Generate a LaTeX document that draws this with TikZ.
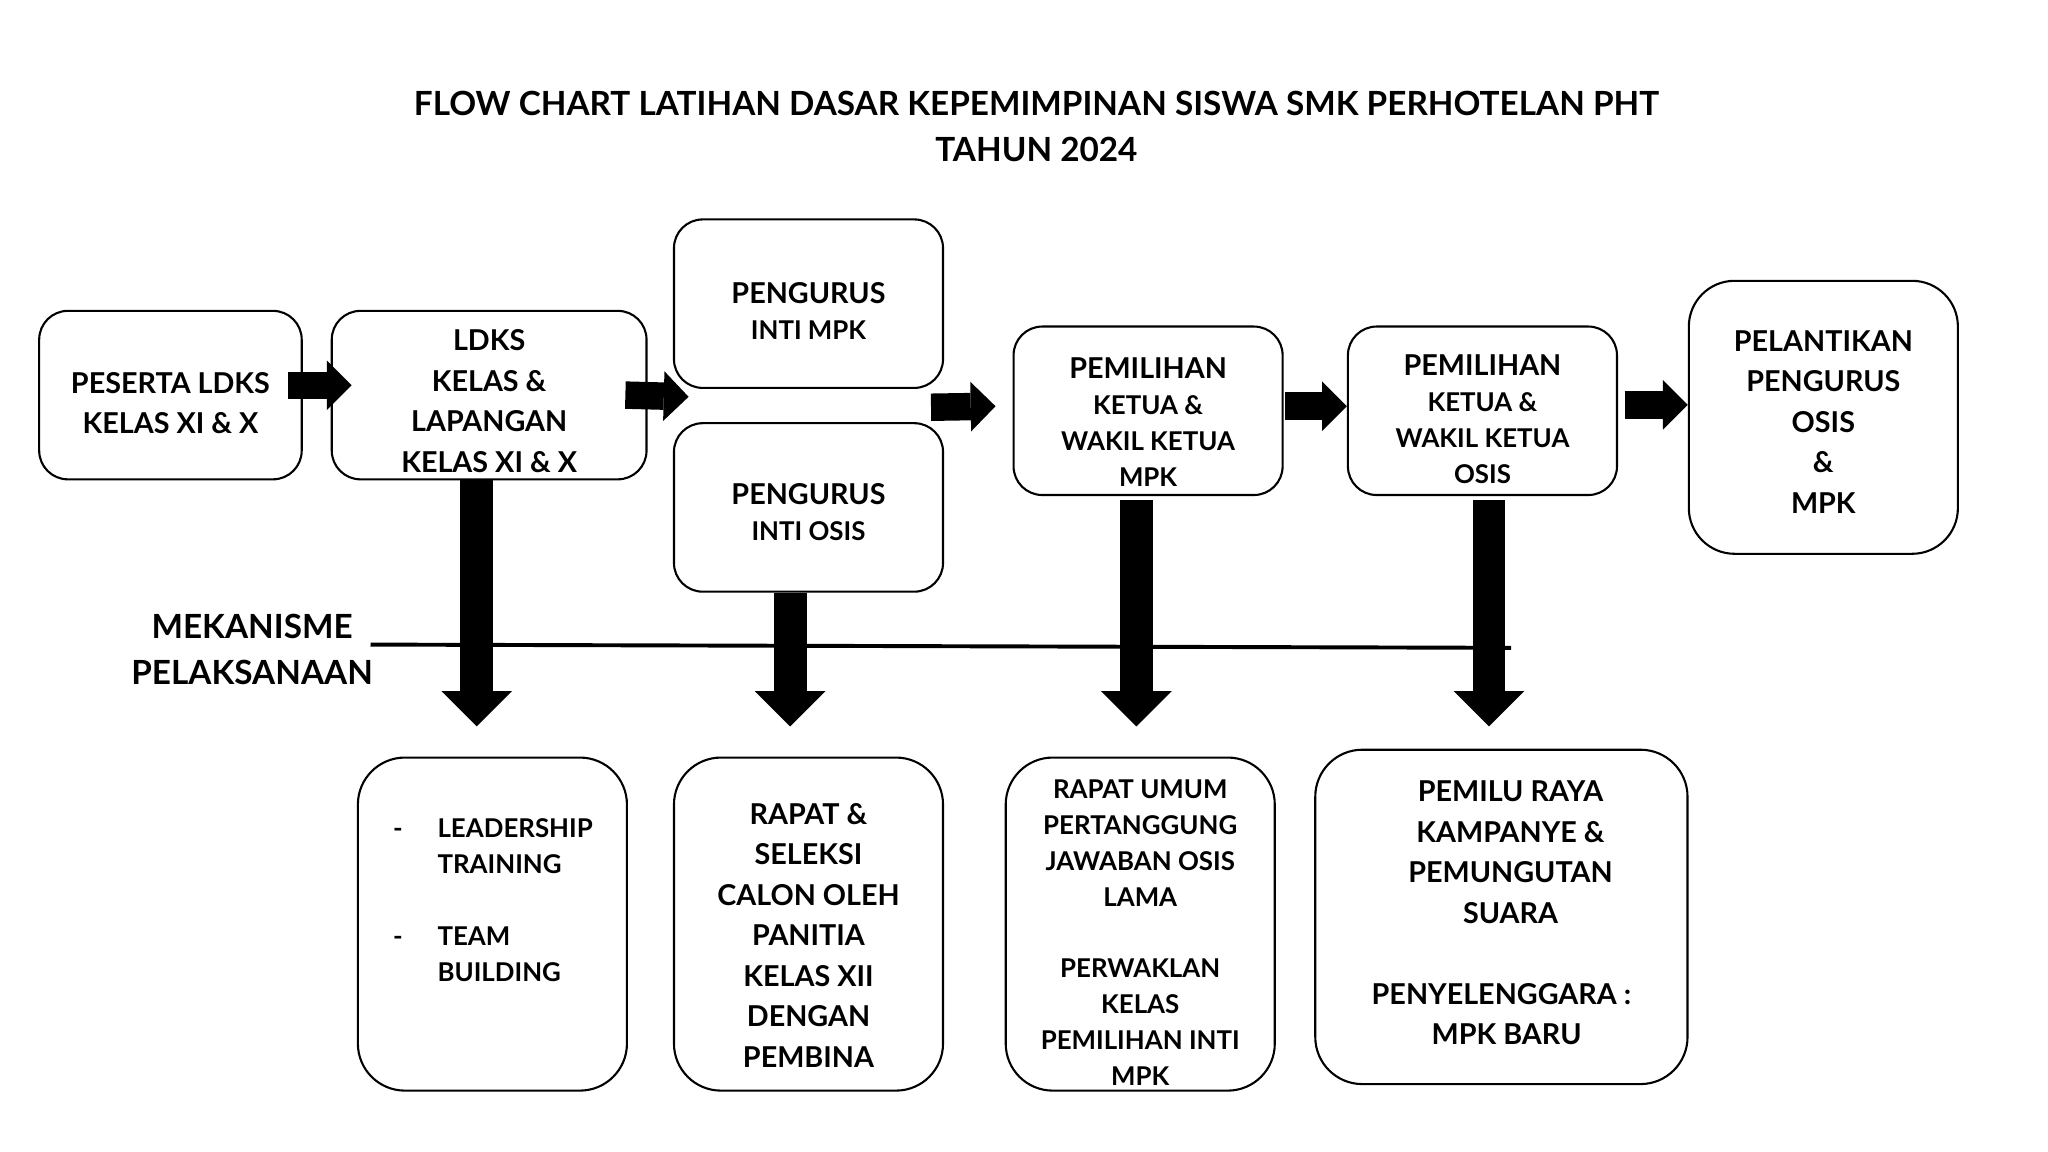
\documentclass[tikz,border=0pt]{standalone}
\usepackage{fontspec}
\setmainfont{Lato}
\usetikzlibrary{arrows.meta,positioning}
\newcommand\fsbig{\fontsize{22}{31}\selectfont}
\newcommand\fssmall{\fontsize{19.8}{27.5}\selectfont}
\newcommand\fstitle{\fontsize{25.5}{35}\selectfont}
\newcommand\turun[1]{\rule{0pt}{#1}}

\begin{document}
\begin{tikzpicture}[x=1pt,y=-1pt,
  box/.style={draw,line width=1.6pt,rounded corners=22pt,align=center,inner sep=0pt,
    minimum width=206pt,minimum height=129pt,font=\bfseries\fsbig},
  mix/.style={box,font=\bfseries\fssmall},
  tall/.style={box,rounded corners=36pt,minimum height=255pt},
  hblk/.style={line width=21pt,-{Triangle[width=38pt,length=19pt,line width=0pt]}},
  vblk/.style={line width=25pt,-{Triangle[width=54pt,length=27pt,line width=0pt]}}]
\fill[white] (0,0) rectangle (1568,882);
\node[font=\bfseries\fstitle,align=center] (judul) at (793.5,97)
  {FLOW CHART LATIHAN DASAR KEPEMIMPINAN SISWA SMK PERHOTELAN PHT\\TAHUN 2024};

% baris atas
\node[box,minimum width=201pt] (peserta) at (130.5,302.5) {\turun{28pt}PESERTA LDKS\\KELAS XI \& X};
\node[box,minimum width=241pt] (ldks) at (374.5,302.5) {\turun{25pt}LDKS\\KELAS \&\\LAPANGAN\\KELAS XI \& X};
\node[mix] (intimpk) at (619,232.5) {\turun{27pt}{\fsbig PENGURUS}\\INTI MPK};
\node[mix] (intiosis) at (619,388.5) {\turun{23pt}{\fsbig PENGURUS}\\INTI OSIS};
\node[mix] (pilmpk) at (879,314.5) {\turun{33pt}{\fsbig PEMILIHAN}\\KETUA \&\\WAKIL KETUA\\MPK};
\node[mix] (pilosis) at (1135,314.5) {\turun{29pt}{\fsbig PEMILIHAN}\\KETUA \&\\WAKIL KETUA\\OSIS};
\node[box,rounded corners=35pt,minimum height=209pt] (lantik) at (1396,319.5)
  {\turun{23pt}PELANTIKAN\\PENGURUS\\OSIS\\\&\\MPK};

% mekanisme
\node[font=\bfseries\fstitle,align=center,inner sep=0pt] (mek) at (193,497.5) {MEKANISME\\PELAKSANAAN};
\coordinate (garis) at (1157,496);
\draw[line width=3pt] ([xshift=-2pt,yshift=4pt]mek.east) -- (garis);

% baris bawah
\node[tall,font=\bfseries\fssmall,align=left,text width=152pt] (latih) at (377,707.5)
  {\makebox[34pt][l]{-}LEADERSHIP\\\hspace*{34pt}TRAINING\\[27.5pt]
   \makebox[34pt][l]{-}TEAM\\\hspace*{34pt}BUILDING\\[9pt]\mbox{}};
\node[tall] (rapat) at (619,707.5) {\turun{33pt}RAPAT \&\\SELEKSI\\CALON OLEH\\PANITIA\\KELAS XII\\DENGAN\\PEMBINA};
\node[tall,font=\bfseries\fssmall] (umum) at (873,707.5)
  {\turun{27.5pt}RAPAT UMUM\\PERTANGGUNG\\JAWABAN OSIS\\LAMA\\[27.5pt]PERWAKLAN\\KELAS\\PEMILIHAN INTI\\MPK};
\node[tall,minimum width=285pt,minimum height=256pt] (pemilu) at (1149.5,702)
  {\hspace*{14pt}PEMILU RAYA\\\hspace*{14pt}KAMPANYE \&\\\hspace*{14pt}PEMUNGUTAN\\\hspace*{14pt}SUARA\\[31pt]
   PENYELENGGARA :\\\hspace*{8pt}MPK BARU\rule[-6pt]{0pt}{6pt}};

% panah
\draw[hblk] ([xshift=-11pt,yshift=7.5pt]peserta.east) -- ([xshift=16pt,yshift=7.5pt]ldks.west);
\draw[hblk] ([xshift=-17pt]ldks.east) -- ([xshift=12pt,yshift=-6pt]intimpk.south west);
\draw[hblk] ([xshift=-10pt,yshift=-14pt]intimpk.south east) -- ([xshift=-13pt,yshift=3.5pt]pilmpk.west);
\draw[hblk] ([xshift=1pt,yshift=3.5pt]pilmpk.east) -- ([yshift=3.5pt]pilosis.west);
\draw[hblk] ([xshift=5pt,yshift=4.5pt]pilosis.east) -- ([yshift=9.5pt]lantik.west);
\draw[vblk] ([xshift=-9.5pt]ldks.south) -- ([xshift=-12pt,yshift=23pt]latih.north);
\draw[vblk] ([xshift=-14pt]intiosis.south) -- ([xshift=-14pt,yshift=23pt]rapat.north);
\draw[vblk] ([xshift=-9pt,yshift=-3pt]pilmpk.south) -- ([xshift=-3pt,yshift=23pt]umum.north);
\draw[vblk] ([xshift=5pt,yshift=-3pt]pilosis.south) -- ([xshift=-9.5pt,yshift=17pt]pemilu.north);
\end{tikzpicture}
\end{document}
